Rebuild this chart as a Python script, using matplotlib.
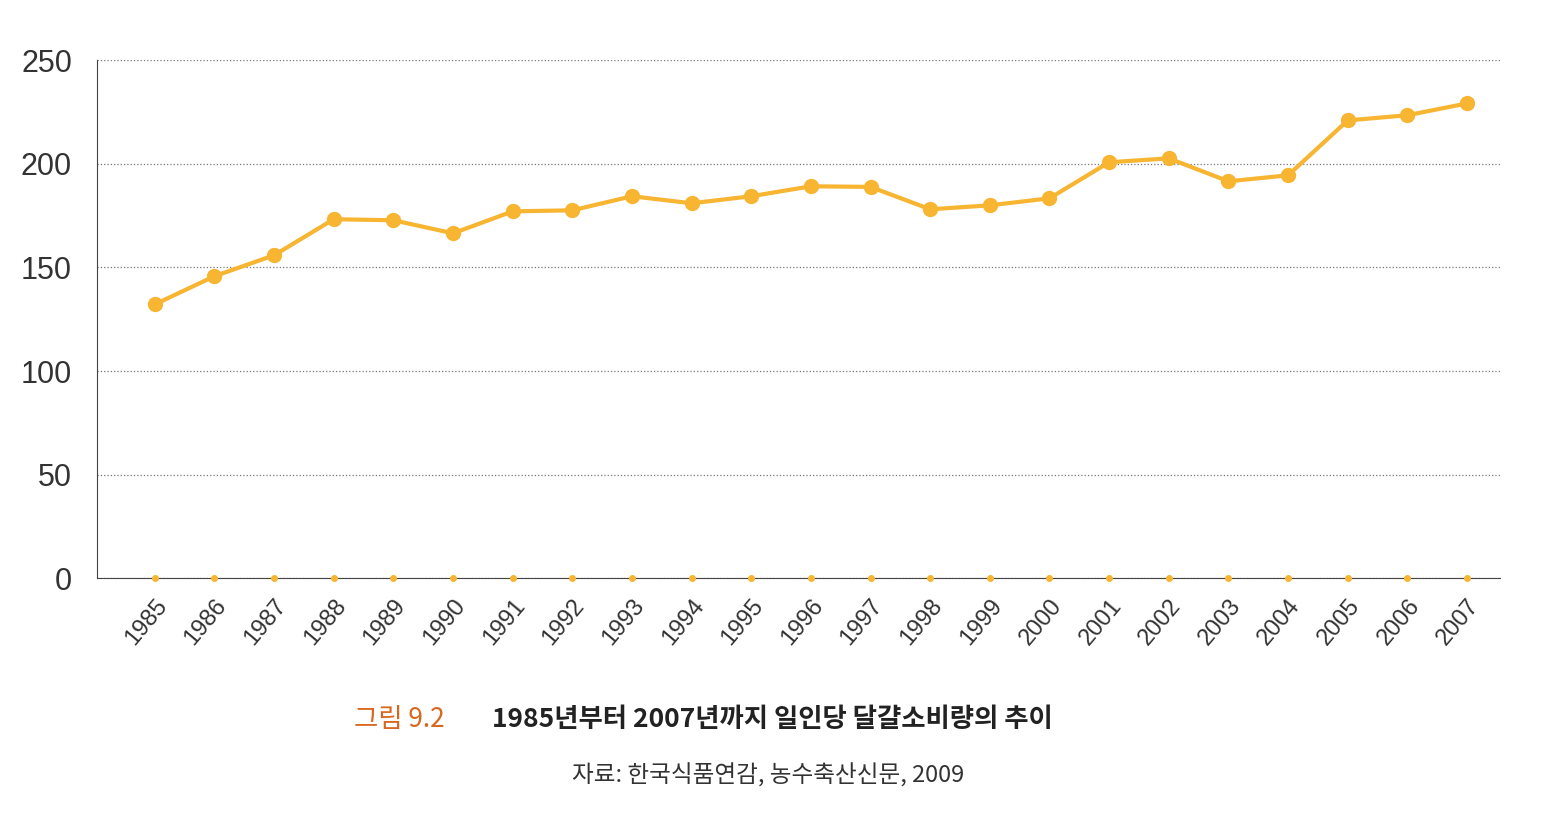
import matplotlib
matplotlib.use("Agg")
import matplotlib.pyplot as plt

years = [str(y) for y in range(1985, 2008)]
consumption = [132.2, 145.8, 155.9, 173.3, 172.8, 166.5, 177.1, 177.6, 184.4, 181.0,
               184.4, 189.2, 188.9, 178.1, 180.0, 183.4, 200.8, 202.7, 191.6, 194.5,
               221.0, 223.5, 229.2]
yticks = [0, 50, 100, 150, 200, 250]

kr = ["Noto Sans CJK KR", "Noto Sans CJK JP", "Noto Sans CJK SC", "DejaVu Sans"]
color = "#f7b531"
fig = plt.figure(figsize=(15.51, 8.38), dpi=100)
ax = fig.add_axes([0.0625, 0.310, 0.9045, 0.618])
x = list(range(len(years)))
ax.plot(x, consumption, color=color, lw=3, marker="o", ms=10, zorder=3)
ax.plot(x, [0] * len(x), ls="none", marker="o", ms=4, color=color, zorder=3, clip_on=False)

ax.set_xlim(-0.97, 22.55)
ax.set_ylim(0, 250)
ax.set_yticks(yticks)
ax.set_xticks(x)
ax.set_xticklabels(years, rotation=50, ha="right", rotation_mode="anchor",
                   fontsize=17, color="#333333", fontfamily="Liberation Sans")
for lab in ax.get_yticklabels():
    lab.set_fontfamily("Liberation Sans")
ax.tick_params(axis="y", labelsize=22, colors="#333333", length=0, pad=18)
ax.tick_params(axis="x", length=0, pad=12)
for s in ["top", "right"]:
    ax.spines[s].set_visible(False)
for s in ["left", "bottom"]:
    ax.spines[s].set_color("#444444")
ax.grid(axis="y", ls=":", color="#777777", lw=0.9)
ax.set_axisbelow(True)

fig.text(0.228, 0.141, "그림 9.2", color="#d9661e", fontsize=19,
         fontfamily=kr, ha="left", va="center")
fig.text(0.317, 0.141, "1985년부터 2007년까지 일인당 달걀소비량의 추이", color="#222222",
         fontsize=19, fontfamily=kr, fontweight="bold", ha="left", va="center")
fig.text(0.495, 0.075, "자료: 한국식품연감, 농수축산신문, 2009", color="#333333",
         fontsize=17, fontfamily=kr, ha="center", va="center")

fig.savefig("out.png", dpi=100)
